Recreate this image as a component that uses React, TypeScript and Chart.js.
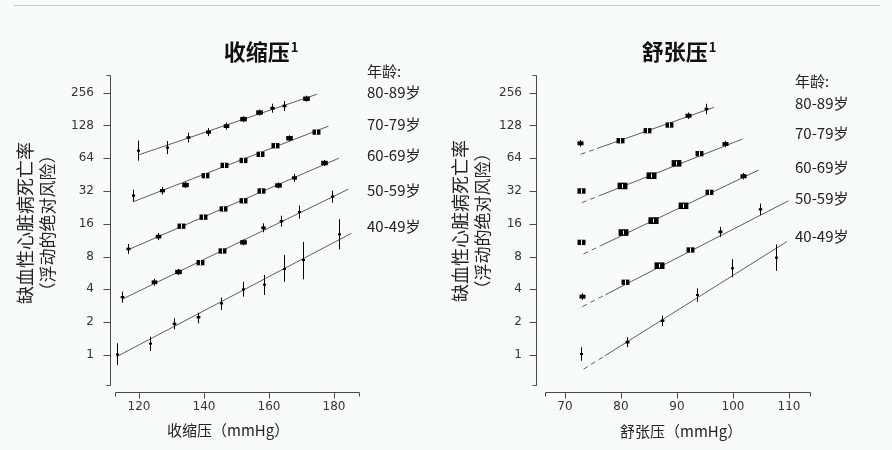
import React, { useEffect, useRef } from "react";
import { Chart, registerables } from "chart.js";

Chart.register(...registerables);

const AGE_LABELS = ["80-89岁", "70-79岁", "60-69岁", "50-59岁", "40-49岁"];
const RISK_TICKS = [1, 2, 4, 8, 16, 32, 64, 128, 256];
const SBP_TICKS = [120, 140, 160, 180];
const DBP_TICKS = [70, 80, 90, 100, 110];

// Systolic pressure groups, oldest age band first
const sbpMean = [
  [119.8, 128.6, 135.1, 141.1, 146.8, 152.1, 156.8, 161.0, 164.7, 171.5],
  [118.2, 127.2, 134.1, 140.4, 146.2, 152.0, 157.3, 161.9, 166.2, 174.4],
  [116.5, 125.9, 132.8, 139.7, 145.8, 152.0, 157.5, 162.9, 167.6, 176.9],
  [114.9, 124.6, 131.9, 138.8, 145.5, 152.0, 158.1, 163.7, 169.2, 179.3],
  [113.3, 123.3, 130.8, 138.1, 145.1, 152.0, 158.5, 164.6, 170.6, 181.5],
];
const sbpRisk = [
  [75, 80, 99, 111, 126, 146, 168, 184, 193, 225],
  [29, 32.2, 36.3, 44.2, 55, 61, 69.5, 83.3, 97.6, 111],
  [9.4, 12.2, 15.2, 18.4, 21.9, 26, 32, 36, 42.2, 57.8],
  [3.39, 4.65, 5.78, 7.03, 9.0, 10.8, 14.7, 16.9, 20.5, 28.4],
  [1.01, 1.27, 1.93, 2.22, 2.98, 4.0, 4.42, 6.16, 7.44, 12.8],
];
const sbpLow = [
  [60.7, 69.8, 89.1, 102, 116.9, 137.1, 157.8, 167.3, 173.7, 211.3],
  [25.5, 29.6, 34.1, 41.9, 52.2, 57.9, 66.0, 79.1, 91.6, 105.3],
  [8.46, 11.32, 14.42, 17.46, 20.78, 24.67, 30.37, 33.8, 38.78, 54.27],
  [3.02, 4.32, 5.43, 6.67, 8.54, 10.14, 13.36, 15.04, 17.88, 25.02],
  [0.81, 1.09, 1.72, 1.95, 2.59, 3.43, 3.55, 4.7, 4.95, 9.3],
];
const sbpHigh = [
  [92.7, 91.8, 110, 120.8, 135.7, 155.5, 178.9, 202.4, 214.4, 239.6],
  [32.9, 35.0, 38.7, 46.6, 58.0, 64.3, 73.3, 87.8, 103.9, 117.0],
  [10.44, 13.14, 16.02, 19.39, 23.08, 27.4, 33.73, 38.34, 45.91, 61.56],
  [3.81, 5.01, 6.16, 7.41, 9.49, 11.5, 16.17, 18.98, 23.51, 32.23],
  [1.28, 1.47, 2.17, 2.44, 3.36, 4.7, 5.43, 8.28, 10.9, 17.6],
];
const sbpFitFrom = [119.8, 118.2, 116.5, 115.2, 113.1];
const sbpFitTo = [174.7, 178.3, 181.5, 184.4, 185.4];
const sbpFitRiskFrom = [68.5, 25.5, 9.2, 3.29, 0.965];
const sbpFitRiskTo = [247, 126, 64, 33.2, 13.1];

// Diastolic pressure groups, oldest age band first
const dbpMean = [
  [72.7, 79.8, 84.6, 88.6, 92.0, 95.2],
  [72.8, 80.1, 85.3, 89.9, 93.9, 98.6],
  [72.9, 80.4, 85.8, 91.0, 95.8, 101.7],
  [73.1, 80.8, 86.7, 92.3, 97.7, 104.8],
  [72.9, 81.1, 87.3, 93.6, 99.8, 107.7],
];
const dbpRisk = [
  [87.7, 92.6, 114.4, 129, 157, 181],
  [32, 35.6, 44.2, 57.4, 70.4, 86.4],
  [10.8, 13.3, 17.1, 23.4, 31.1, 43.7],
  [3.43, 4.65, 6.6, 9.2, 13.5, 21.7],
  [1.02, 1.31, 2.06, 3.55, 6.25, 7.82],
];
const dbpLow = [
  [81.8, 87.9, 108.5, 122.4, 146.5, 161.9],
  [30.4, 34.1, 42.4, 55.0, 66.8, 80.6],
  [10.25, 12.75, 16.4, 22.4, 29.5, 40.8],
  [3.2, 4.41, 6.33, 8.73, 12.15, 19.2],
  [0.885, 1.18, 1.84, 3.08, 5.17, 5.91],
];
const dbpHigh = [
  [94.0, 97.6, 120.6, 136.0, 168.3, 202.4],
  [33.7, 37.1, 46.1, 59.9, 74.2, 92.6],
  [11.38, 13.87, 17.8, 24.4, 32.8, 46.8],
  [3.68, 4.9, 6.88, 9.7, 15.0, 24.5],
  [1.175, 1.455, 2.3, 4.09, 7.56, 10.35],
];
const dbpFitFrom = [72.8, 73.0, 73.3, 73.1, 73.3];
const dbpFitTo = [96.6, 101.7, 104.6, 109.9, 109.6];
const dbpDashTo = [75.7, 76.3, 76.3, 77.2, 77.1];
const dbpFitRiskFrom = [69.5, 25, 8.45, 2.78, 0.74];
const dbpFitRiskTo = [187.6, 96, 49.9, 26, 10.96];

const RISK_MIN = 0.53;
const RISK_MAX = 371.4;

const CANVAS_W = 446;
const CANVAS_H = 450;

// Axis lines drawn slightly apart from the plotting region, with end brackets
const detachedAxes = {
  id: "detachedAxes",
  afterDraw(chart: any, _args: any, opts: any) {
    const { ctx, chartArea, scales } = chart;
    const xs = scales.x;
    const ys = scales.y;
    const ax = Math.round(chartArea.left - opts.yGap) + 0.5;
    const ay = Math.round(chartArea.bottom + opts.xGap) + 0.5;
    ctx.save();
    ctx.strokeStyle = "#4a4a4a";
    ctx.lineWidth = 1;
    ctx.beginPath();
    const top = Math.round(chartArea.top) + 0.5;
    const bot = Math.round(chartArea.bottom) + 0.5;
    ctx.moveTo(ax - 4, top);
    ctx.lineTo(ax, top);
    ctx.lineTo(ax, bot);
    ctx.lineTo(ax - 4, bot);
    ys.ticks.forEach((t: any) => {
      const py = Math.round(ys.getPixelForValue(t.value)) + 0.5;
      ctx.moveTo(ax, py);
      ctx.lineTo(ax - 7, py);
    });
    const l = Math.round(chartArea.left) + 0.5;
    const r = Math.round(chartArea.right) + 0.5;
    ctx.moveTo(l, ay + 4);
    ctx.lineTo(l, ay);
    ctx.lineTo(r, ay);
    ctx.lineTo(r, ay + 4);
    xs.ticks.forEach((t: any) => {
      const px = Math.round(xs.getPixelForValue(t.value)) + 0.5;
      ctx.moveTo(px, ay);
      ctx.lineTo(px, ay + 6);
    });
    ctx.stroke();
    ctx.restore();
  },
};

// Boxes sized by precision (inverse of the log-interval width) plus interval bars
const intervalMarkers = {
  id: "intervalMarkers",
  afterDatasetsDraw(chart: any) {
    const { ctx } = chart;
    const ys = chart.scales.y;
    chart.data.datasets.forEach((ds: any, di: number) => {
      if (!ds.low) return;
      const meta = chart.getDatasetMeta(di);
      meta.data.forEach((pt: any, i: number) => {
        const cx = Math.round(pt.x);
        const cy = pt.y;
        const lo = ds.low[i];
        const hi = ds.high[i];
        const yLo = ys.getPixelForValue(lo);
        const yHi = ys.getPixelForValue(hi);
        const spread = Math.log2(hi / lo);
        const h = Math.max(2, Math.min(7, 0.8 / spread));
        const w = Math.max(2.5, h * 1.5);
        ctx.save();
        ctx.fillStyle = "#000";
        ctx.fillRect(cx + 0.5 - w / 2, cy - h / 2, w, h);
        const inside = yHi >= cy - h / 2 && yLo <= cy + h / 2;
        ctx.strokeStyle = inside ? "#ffffff" : "#000";
        ctx.lineWidth = 1;
        ctx.beginPath();
        ctx.moveTo(cx + 0.5, yHi);
        ctx.lineTo(cx + 0.5, yLo);
        ctx.stroke();
        ctx.restore();
      });
    });
  },
};

type PanelSpec = {
  means: number[][];
  risks: number[][];
  lows: number[][];
  highs: number[][];
  fitFrom: number[];
  fitTo: number[];
  fitRiskFrom: number[];
  fitRiskTo: number[];
  dashTo?: number[];
  xTicks: number[];
  xMin: number;
  xMax: number;
  plotLeft: number;
  plotRight: number;
  labelPad: number;
  yGap: number;
};

function buildDatasets(p: PanelSpec) {
  const sets: any[] = [];
  p.means.forEach((_, g) => {
    const pts: { x: number; y: number }[] = [{ x: p.fitFrom[g], y: p.fitRiskFrom[g] }];
    if (p.dashTo) {
      const t = (p.dashTo[g] - p.fitFrom[g]) / (p.fitTo[g] - p.fitFrom[g]);
      const yb = p.fitRiskFrom[g] * Math.pow(p.fitRiskTo[g] / p.fitRiskFrom[g], t);
      pts.push({ x: p.dashTo[g], y: yb });
    }
    pts.push({ x: p.fitTo[g], y: p.fitRiskTo[g] });
    const dashed = !!p.dashTo;
    sets.push({
      label: AGE_LABELS[g] + " trend",
      data: pts,
      showLine: true,
      borderColor: "#5c5c5c",
      borderWidth: 1,
      pointRadius: 0,
      segment: {
        borderDash: (c: any) => (dashed && c.p0DataIndex === 0 ? [5, 4] : undefined),
      },
    });
  });
  p.means.forEach((xs, g) => {
    sets.push({
      label: AGE_LABELS[g],
      data: xs.map((x, i) => ({ x, y: p.risks[g][i] })),
      showLine: false,
      pointRadius: 0,
      low: p.lows[g],
      high: p.highs[g],
    });
  });
  return sets;
}

function Panel({ spec, left }: { spec: PanelSpec; left: number }) {
  const ref = useRef<HTMLCanvasElement>(null);
  useEffect(() => {
    const tickFont = { family: '"DejaVu Sans", sans-serif', size: 12 };
    const chart = new Chart(ref.current as HTMLCanvasElement, {
      type: "scatter",
      data: { datasets: buildDatasets(spec) },
      plugins: [detachedAxes, intervalMarkers],
      options: {
        responsive: false,
        animation: false,
        devicePixelRatio: 1,
        layout: {
          padding: { left: 0, top: 75, right: CANVAS_W - spec.plotRight, bottom: 0 },
        },
        plugins: {
          legend: { display: false },
          tooltip: { enabled: false },
          detachedAxes: { yGap: spec.yGap, xGap: 7 },
        } as any,
        scales: {
          x: {
            type: "linear",
            min: spec.xMin,
            max: spec.xMax,
            grid: { display: false, drawTicks: false },
            border: { display: false },
            afterBuildTicks: (s: any) => {
              s.ticks = spec.xTicks.map((v) => ({ value: v }));
            },
            afterFit: (s: any) => {
              s.height = CANVAS_H - 385;
            },
            ticks: {
              autoSkip: false,
              maxRotation: 0,
              padding: 15,
              color: "#333",
              font: tickFont,
              callback: (v: any) => String(v),
            },
          },
          y: {
            type: "logarithmic",
            min: RISK_MIN,
            max: RISK_MAX,
            grid: { display: false, drawTicks: false },
            border: { display: false },
            afterBuildTicks: (s: any) => {
              s.ticks = RISK_TICKS.map((v) => ({ value: v }));
            },
            afterFit: (s: any) => {
              s.width = spec.plotLeft;
            },
            ticks: {
              autoSkip: false,
              padding: spec.labelPad,
              color: "#333",
              font: tickFont,
              callback: (v: any) => String(v),
            },
          },
        },
      } as any,
    });
    return () => chart.destroy();
  }, [spec]);
  return (
    <canvas
      ref={ref}
      width={CANVAS_W}
      height={CANVAS_H}
      style={{ position: "absolute", left, top: 0, width: CANVAS_W, height: CANVAS_H }}
    />
  );
}

const sbpSpec: PanelSpec = {
  means: sbpMean,
  risks: sbpRisk,
  lows: sbpLow,
  highs: sbpHigh,
  fitFrom: sbpFitFrom,
  fitTo: sbpFitTo,
  fitRiskFrom: sbpFitRiskFrom,
  fitRiskTo: sbpFitRiskTo,
  xTicks: SBP_TICKS,
  xMin: 112.6,
  xMax: 187.7,
  plotLeft: 115,
  plotRight: 359,
  labelPad: 21,
  yGap: 5,
};

const dbpSpec: PanelSpec = {
  means: dbpMean,
  risks: dbpRisk,
  lows: dbpLow,
  highs: dbpHigh,
  fitFrom: dbpFitFrom,
  fitTo: dbpFitTo,
  fitRiskFrom: dbpFitRiskFrom,
  fitRiskTo: dbpFitRiskTo,
  dashTo: dbpDashTo,
  xTicks: DBP_TICKS,
  xMin: 66.43,
  xMax: 113.75,
  plotLeft: 99,
  plotRight: 364,
  labelPad: 23,
  yGap: 9,
};

const cjk = '"Noto Sans CJK SC", "Noto Sans", sans-serif';

function Title({ text, cx }: { text: string; cx: number }) {
  return (
    <div
      style={{
        position: "absolute",
        left: cx,
        top: 50,
        transform: "translate(-50%, -50%)",
        fontSize: 22,
        fontWeight: 700,
        lineHeight: 1,
        whiteSpace: "nowrap",
        color: "#111",
      }}
    >
      {text}
      <span style={{ fontSize: 13, position: "relative", top: -8, marginLeft: 1 }}>1</span>
    </div>
  );
}

function AgeLabels({ x, ys }: { x: number; ys: number[] }) {
  return (
    <>
      <div style={{ position: "absolute", left: x, top: ys[0], transform: "translateY(-50%)", fontSize: 15, lineHeight: 1, whiteSpace: "nowrap" }}>
        年龄:
      </div>
      {AGE_LABELS.map((t, i) => (
        <div
          key={t}
          style={{ position: "absolute", left: x, top: ys[i + 1], transform: "translateY(-50%)", fontSize: 15, lineHeight: 1, whiteSpace: "nowrap" }}
        >
          {t}
        </div>
      ))}
    </>
  );
}

function RiskTitle({ x1, x2, cy }: { x1: number; x2: number; cy: number }) {
  const base: React.CSSProperties = {
    position: "absolute",
    top: cy,
    transform: "translate(-50%, -50%) rotate(-90deg)",
    fontSize: 18,
    lineHeight: 1,
    whiteSpace: "nowrap",
    color: "#222",
  };
  return (
    <>
      <div style={{ ...base, left: x1 }}>缺血性心脏病死亡率</div>
      <div style={{ ...base, left: x2, fontSize: 17 }}>（浮动的绝对风险）</div>
    </>
  );
}

export default function App() {
  return (
    <div
      style={{
        position: "absolute",
        left: 0,
        top: 0,
        width: 892,
        height: 450,
        overflow: "hidden",
        background: "#f8fbfc",
        fontFamily: cjk,
        color: "#222",
      }}
    >
      <div style={{ position: "absolute", left: 14, top: 5, width: 866, height: 1, background: "#c4c7c9" }} />
      <Panel spec={sbpSpec} left={0} />
      <Panel spec={dbpSpec} left={446} />
      <Title text="收缩压" cx={261} />
      <Title text="舒张压" cx={679} />
      <AgeLabels x={367} ys={[70, 90.5, 122.7, 154.3, 189, 225]} />
      <AgeLabels x={795} ys={[80, 101.7, 131.7, 166, 197.3, 235]} />
      <RiskTitle x1={24} x2={46} cy={223} />
      <RiskTitle x1={459} x2={481} cy={221} />
      <div style={{ position: "absolute", left: 167, top: 429, transform: "translateY(-50%)", fontSize: 15, lineHeight: 1, whiteSpace: "nowrap" }}>
        收缩压（mmHg）
      </div>
      <div style={{ position: "absolute", left: 620, top: 430, transform: "translateY(-50%)", fontSize: 15, lineHeight: 1, whiteSpace: "nowrap" }}>
        舒张压（mmHg）
      </div>
    </div>
  );
}
